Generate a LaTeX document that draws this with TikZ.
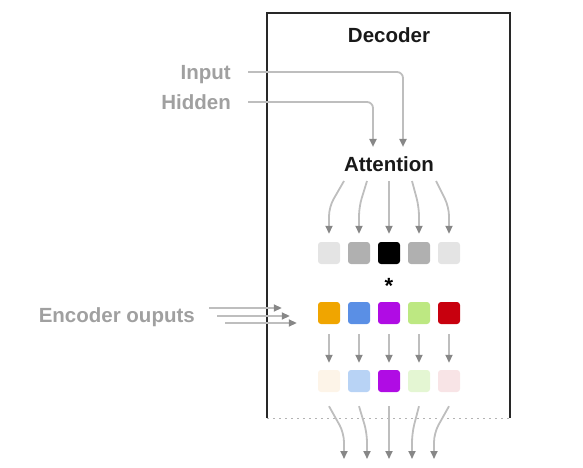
\documentclass[tikz,border=0pt]{standalone}
\usepackage{fontspec}
\setmainfont{Liberation Sans}
\usetikzlibrary{arrows.meta}
\definecolor{lblgray}{RGB}{160,160,160}
\definecolor{linegray}{RGB}{190,190,190}
\definecolor{tipgray}{RGB}{135,135,135}
\definecolor{boxline}{RGB}{40,40,40}
\definecolor{wA}{RGB}{228,228,228}
\definecolor{wB}{RGB}{176,176,176}
\definecolor{wC}{RGB}{0,0,0}
\definecolor{eA}{RGB}{240,165,0}
\definecolor{eB}{RGB}{90,143,229}
\definecolor{eC}{RGB}{176,12,228}
\definecolor{eD}{RGB}{189,232,130}
\definecolor{eE}{RGB}{200,0,14}
\definecolor{oA}{RGB}{253,244,232}
\definecolor{oB}{RGB}{184,211,245}
\definecolor{oC}{RGB}{176,12,228}
\definecolor{oD}{RGB}{228,246,211}
\definecolor{oE}{RGB}{248,228,230}
\tikzset{
  sq/.style={rectangle, rounded corners=3pt, minimum size=22pt, inner sep=0pt, draw=none},
  lbl/.style={font=\fontsize{20.5}{24}\selectfont\bfseries, text=lblgray, inner sep=0pt},
  ttl/.style={font=\fontsize{20.5}{24}\selectfont\bfseries, text=black!90, inner sep=0pt},
  arr/.style={draw=linegray, line width=1.8pt, -{Triangle[length=8pt,width=7pt,color=tipgray]}},
}
\begin{document}
\begin{tikzpicture}[x=1pt,y=-1pt]
\useasboundingbox (0,0) rectangle (583,468);
% box
\draw[boxline, line width=1.1pt] (267,418) -- (267,13) -- (510,13) -- (510,418);
\draw[lblgray!80, line width=1pt, dash pattern=on 2pt off 4pt] (267,418) -- (510,418);
% texts
\node[ttl, anchor=base] (dec) at (389,43) {Decoder};
\node[ttl, anchor=base] (att) at (389,171) {Attention};
\node[lbl, anchor=base east] (inp) at (231,80) {Input};
\node[lbl, anchor=base east] (hid) at (231,110) {Hidden};
\node[lbl, anchor=base east] (enc) at (195,322) {Encoder ouputs};
\node[font=\fontsize{22}{24}\selectfont\bfseries, inner sep=0pt] (star) at (389,286) {*};
% squares
\foreach \i/\c in {1/wA,2/wB,3/wC,4/wB,5/wA}{
  \node[sq, fill=\c] (w\i) at ({299+30*\i},253) {};
}
\foreach \i/\c in {1/eA,2/eB,3/eC,4/eD,5/eE}{
  \node[sq, fill=\c] (e\i) at ({299+30*\i},313) {};
}
\foreach \i/\c in {1/oA,2/oB,3/oC,4/oD,5/oE}{
  \node[sq, fill=\c] (o\i) at ({299+30*\i},381) {};
}
% input/hidden arrows
\coordinate (ia) at ([xshift=14pt,yshift=9pt]att.north);
\coordinate (ha) at ([xshift=-16pt,yshift=9pt]att.north);
\draw[arr, rounded corners=6pt] ([xshift=17pt,yshift=8pt]inp.base east) coordinate (is) -- (ia |- is) -- (ia);
\draw[arr, rounded corners=6pt] ([xshift=17pt,yshift=8pt]hid.base east) coordinate (hs) -- (ha |- hs) -- (ha);
% attention to weights
\foreach \i/\x in {1/344,2/367,3/389,4/412,5/436}{
  \coordinate (as\i) at (\x,181);
  \draw[arr, rounded corners=9pt] (as\i) -- ({299+30*\i},207) -- ([yshift=8pt]w\i.north);
}
% encoder arrows
\coordinate (ei1) at (209,308);
\coordinate (ei2) at (217,316);
\coordinate (ei3) at (225,323);
\draw[arr] (ei1) -- ([xshift=-36pt,yshift=5pt]e1.west);
\draw[arr] (ei2) -- ([xshift=-28pt,yshift=-3pt]e1.west);
\draw[arr] (ei3) -- ([xshift=-21pt,yshift=-10pt]e1.west);
% encoder to output
\foreach \i in {1,...,5}{
  \draw[arr] ([yshift=-10pt]e\i.south) -- ([yshift=7pt]o\i.north);
}
% outputs down
\foreach \i/\x in {1/344,2/367,3/389,4/412,5/434}{
  \coordinate (ot\i) at (\x,459);
  \draw[arr, rounded corners=9pt] ([yshift=-14pt]o\i.south) -- (\x,433) -- (ot\i);
}
\end{tikzpicture}
\end{document}
